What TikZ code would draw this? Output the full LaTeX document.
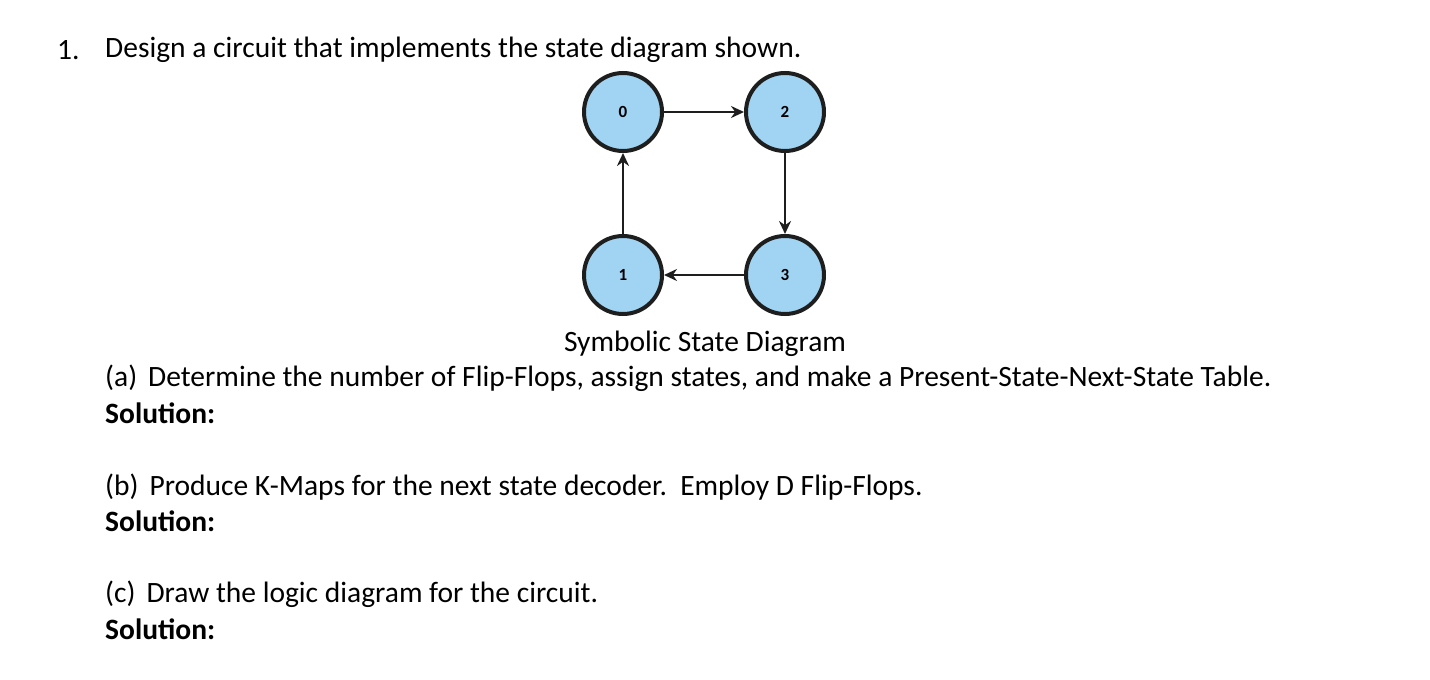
\documentclass[tikz,border=0pt]{standalone}
\usepackage{fontspec}
\setmainfont{Carlito}
\usetikzlibrary{arrows.meta}
\definecolor{stfill}{RGB}{160,212,242}
\definecolor{ink}{RGB}{30,30,30}
\tikzset{x=1pt,y=-1pt,
 st/.style={circle,draw=ink,line width=4pt,fill=stfill,minimum size=78pt,inner sep=0pt,font=\fontsize{17}{17}\selectfont\bfseries},
 tr/.style={draw=ink,line width=2.6pt,-{Stealth[length=13pt,width=12pt]}},
 txt/.style={anchor=west,inner sep=0pt,font=\fontsize{29.5}{29.5}\selectfont},
 sol/.style={txt,font=\fontsize{29.5}{29.5}\selectfont\bfseries}}
\begin{document}
\begin{tikzpicture}
\useasboundingbox (0,0) rectangle (1430,680);
\node[st] (s0) at (623,112) {0};
\node[st] (s2) at (785,112) {2};
\node[st] (s1) at (623,275) {1};
\node[st] (s3) at (785,275) {3};
\draw[tr] (s0) -- (s2);
\draw[tr] (s2) -- (s3);
\draw[tr] (s3) -- (s1);
\draw[tr] (s1) -- (s0);
\node[txt] (n1) at (57,50) {1.};
\node[txt] (q) at (105,50) {Design a circuit that implements the state diagram shown.};
\node[txt,anchor=center] (cap) at (705,344) {Symbolic State Diagram};
\node[txt] (a) at (105,378) {(a)\hspace{11pt}Determine the number of Flip-Flops, assign states, and make a Present-State-Next-State Table.};
\node[sol] (sa) at (105,413) {Solution:};
\node[txt] (b) at (105,487) {(b)\hspace{11pt}Produce K-Maps for the next state decoder.\ \ Employ D Flip-Flops.};
\node[sol] (sb) at (105,521) {Solution:};
\node[txt] (c) at (105,594) {(c)\hspace{11pt}Draw the logic diagram for the circuit.};
\node[sol] (sc) at (105,629) {Solution:};
\end{tikzpicture}
\end{document}
